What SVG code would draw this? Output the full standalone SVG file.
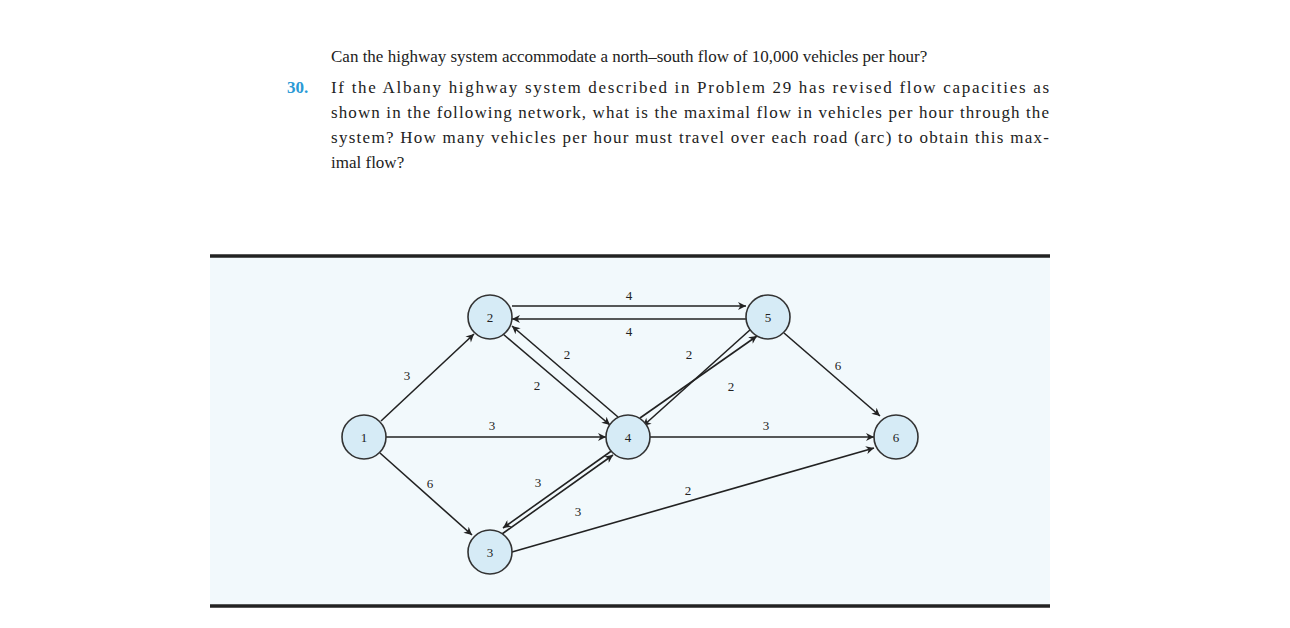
<svg xmlns="http://www.w3.org/2000/svg" width="1290" height="628" viewBox="0 0 1290 628">
<defs>
<marker id="ar" viewBox="0 0 10 10" refX="10" refY="5" markerWidth="11" markerHeight="8" markerUnits="userSpaceOnUse" orient="auto"><path d="M0,0 L10,5 L0,10 L3,5 Z" fill="#222"/></marker>
</defs>
<style>
.p{font-family:"Liberation Serif",serif;font-size:17px;fill:#222}
.l{font-family:"Liberation Serif",serif;font-size:13px;fill:#222;text-anchor:middle}
.n circle{fill:#d6ebf6;stroke:#333;stroke-width:1.6}
.n text{font-family:"Liberation Serif",serif;font-size:13px;fill:#222;text-anchor:middle}
#edges line{stroke:#222;stroke-width:1.6;marker-end:url(#ar)}
</style>
<rect width="1290" height="628" fill="#fff"/>
<text class="p" x="331" y="62">Can the highway system accommodate a north–south flow of 10,000 vehicles per hour?</text>
<text class="p" x="287" y="93" fill="#2a9ad6" style="fill:#2a9ad6;font-weight:bold">30.</text>
<text class="p" x="331" y="93" textLength="718">If the Albany highway system described in Problem 29 has revised flow capacities as</text>
<text class="p" x="331" y="118" textLength="718">shown in the following network, what is the maximal flow in vehicles per hour through the</text>
<text class="p" x="331" y="143" textLength="718">system? How many vehicles per hour must travel over each road (arc) to obtain this max-</text>
<text class="p" x="331" y="168">imal flow?</text>
<rect x="210" y="256" width="840" height="350" fill="#f2f9fc"/>
<line x1="210" y1="256" x2="1050" y2="256" stroke="#222" stroke-width="3.5"/>
<line x1="210" y1="606" x2="1050" y2="606" stroke="#222" stroke-width="3.5"/>
<g id="edges">
<line x1="512" y1="306" x2="746" y2="306"/>
<line x1="746" y1="319" x2="512" y2="319"/>
<line x1="381" y1="421" x2="474" y2="334"/>
<line x1="503" y1="334" x2="610" y2="425"/>
<line x1="618" y1="417" x2="512" y2="326"/>
<line x1="640" y1="418" x2="757" y2="336"/>
<line x1="751" y1="329" x2="643" y2="426"/>
<line x1="386" y1="437" x2="606" y2="437"/>
<line x1="650" y1="437" x2="874" y2="437"/>
<line x1="784" y1="333" x2="880" y2="416"/>
<line x1="380" y1="453" x2="472" y2="535"/>
<line x1="502" y1="534" x2="613" y2="455"/>
<line x1="617" y1="447" x2="503" y2="528"/>
<line x1="512" y1="552" x2="874" y2="448"/>
</g>
<g>
<text class="l" x="629" y="300">4</text>
<text class="l" x="629" y="336">4</text>
<text class="l" x="407" y="380">3</text>
<text class="l" x="537" y="390">2</text>
<text class="l" x="567" y="359">2</text>
<text class="l" x="689" y="359">2</text>
<text class="l" x="731" y="391">2</text>
<text class="l" x="492" y="430">3</text>
<text class="l" x="766" y="430">3</text>
<text class="l" x="838" y="370">6</text>
<text class="l" x="430" y="488">6</text>
<text class="l" x="538" y="487">3</text>
<text class="l" x="578" y="516">3</text>
<text class="l" x="688" y="495">2</text>
</g>
<g id="n1" class="n"><circle cx="364" cy="437" r="22"/><text x="364" y="442">1</text></g>
<g id="n2" class="n"><circle cx="490" cy="317" r="22"/><text x="490" y="322">2</text></g>
<g id="n3" class="n"><circle cx="490" cy="552" r="22"/><text x="490" y="557">3</text></g>
<g id="n4" class="n"><circle cx="628" cy="437" r="22"/><text x="628" y="442">4</text></g>
<g id="n5" class="n"><circle cx="768" cy="317" r="22"/><text x="768" y="322">5</text></g>
<g id="n6" class="n"><circle cx="896" cy="437" r="22"/><text x="896" y="442">6</text></g>
</svg>
